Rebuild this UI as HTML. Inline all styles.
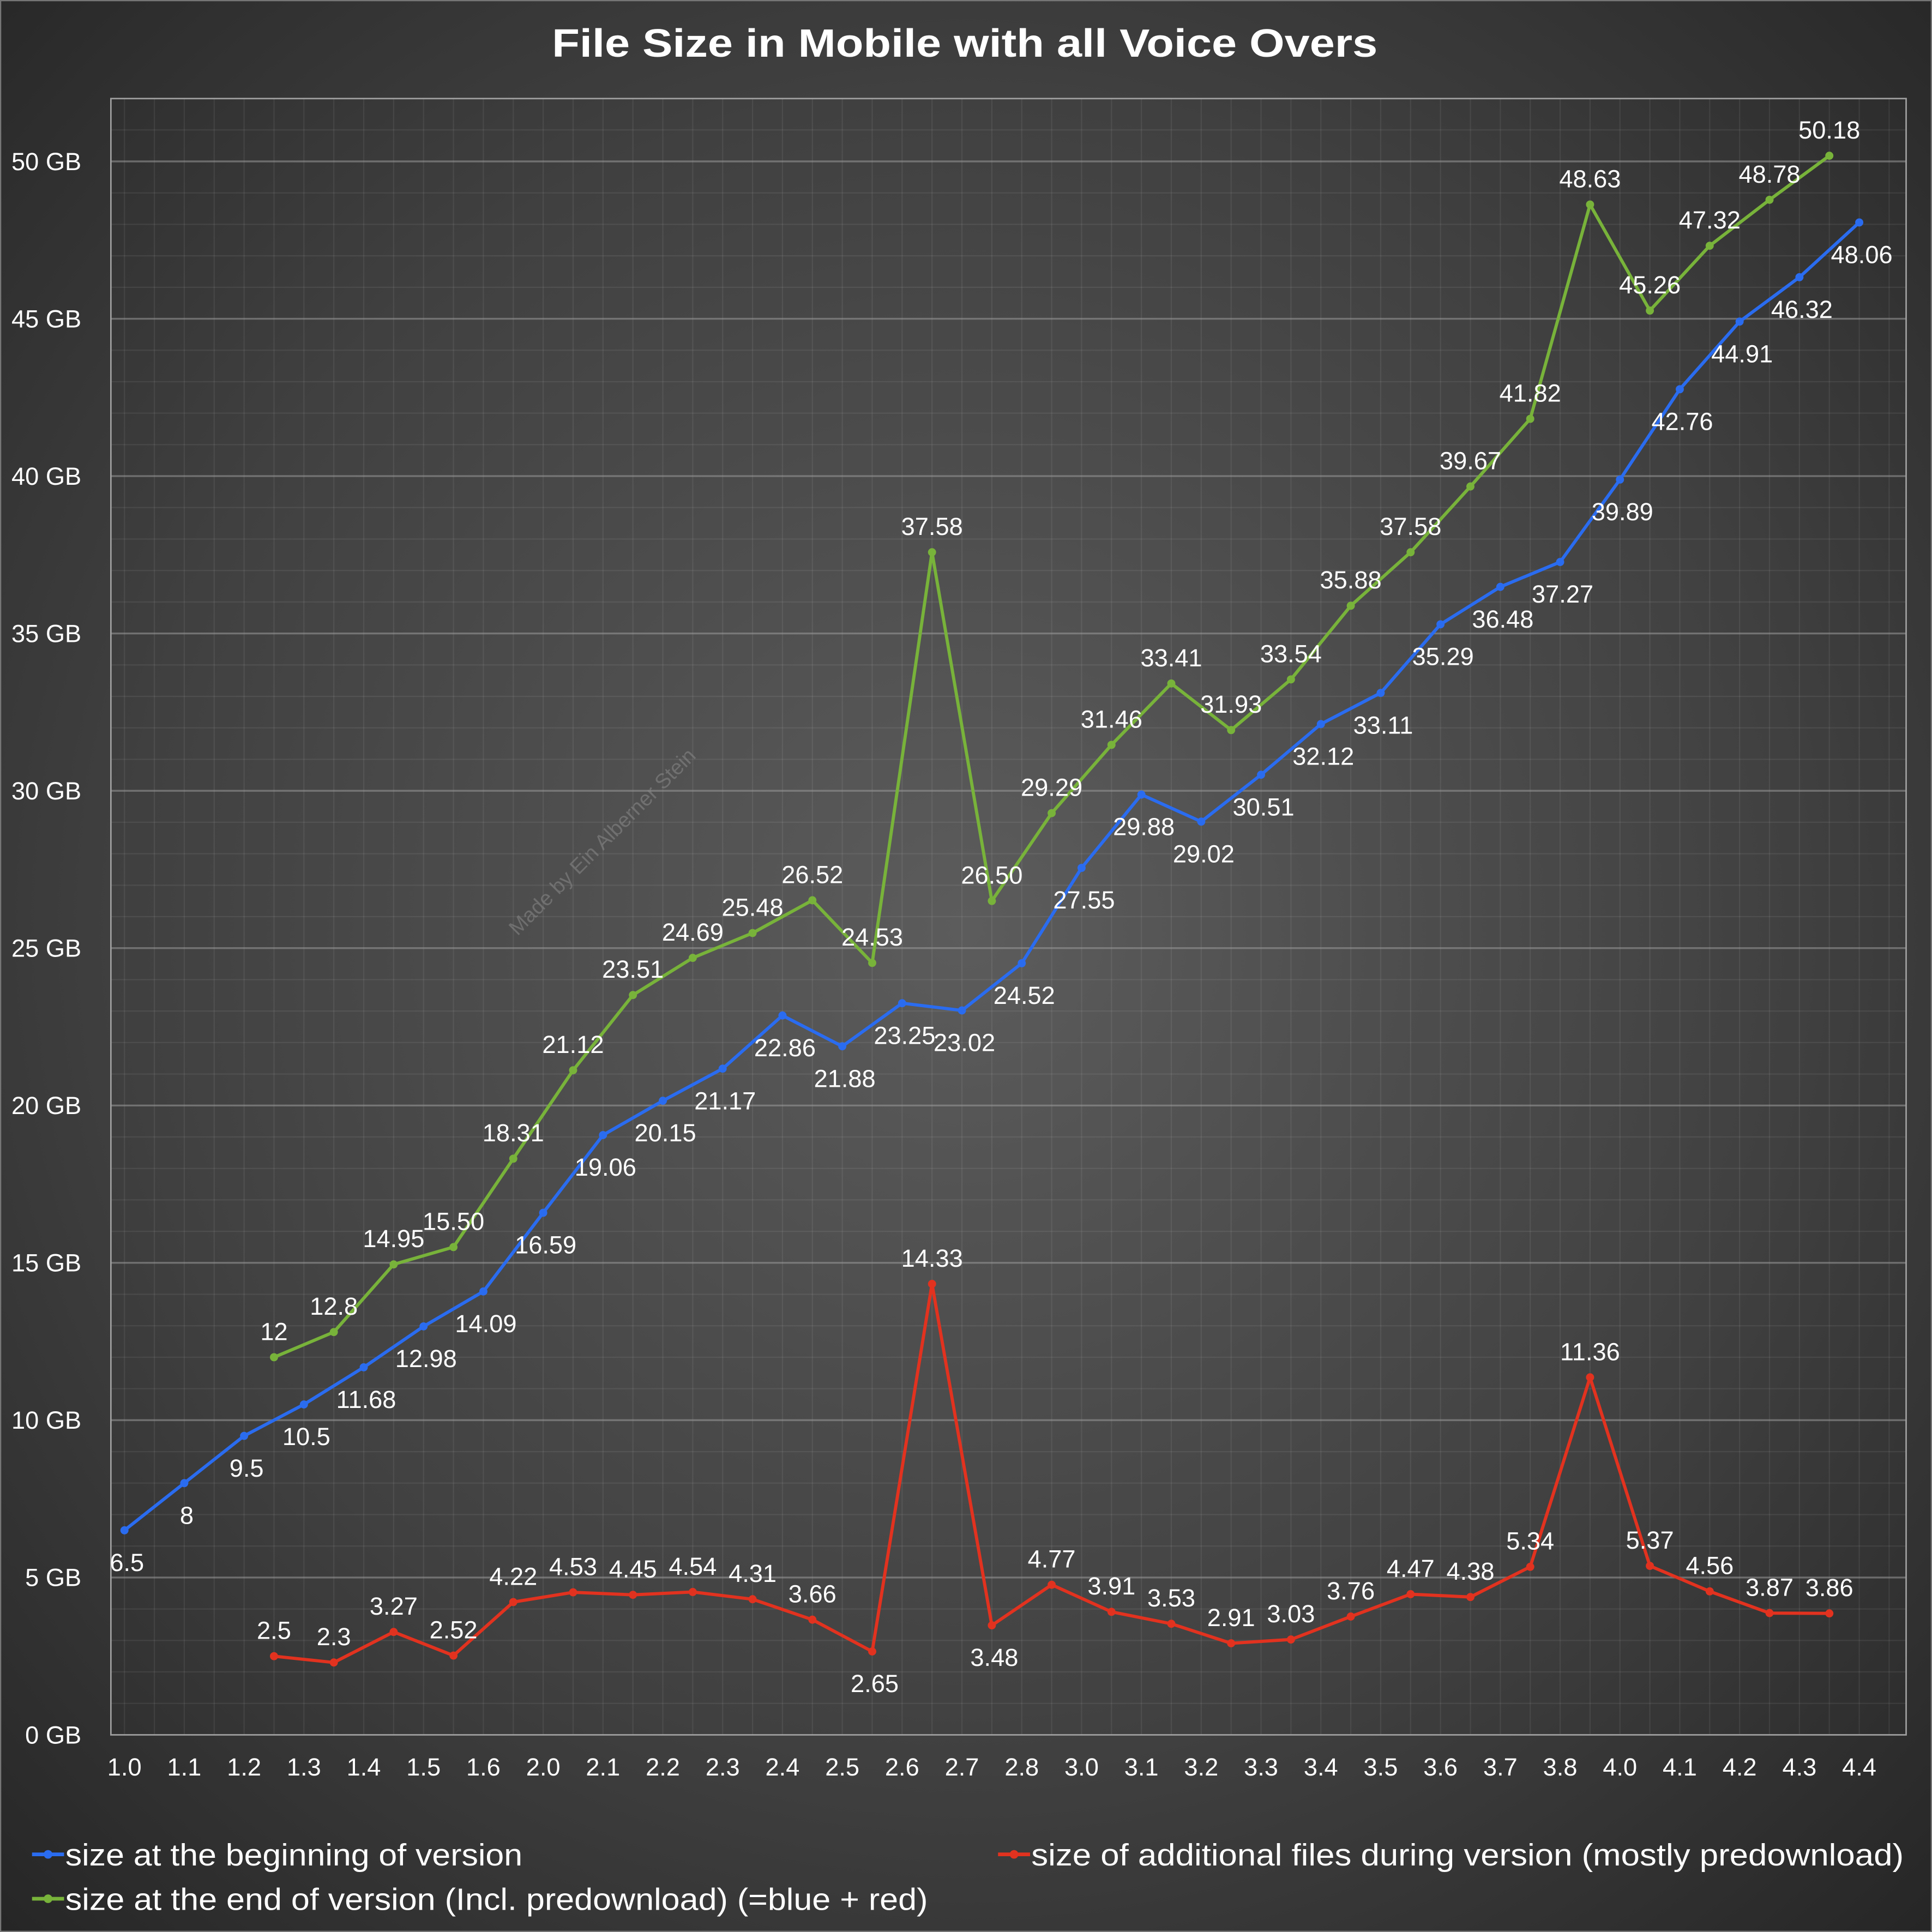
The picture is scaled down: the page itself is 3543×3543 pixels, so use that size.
<!DOCTYPE html>
<html><head><meta charset="utf-8">
<style>
html,body{margin:0;padding:0;background:#2b2b2b;}
svg{display:block;}
text{font-family:"Liberation Sans",sans-serif;}
</style></head>
<body>
<svg id="c" width="3543" height="3543" viewBox="0 0 1568 1568" xmlns="http://www.w3.org/2000/svg">
<defs>
<radialGradient id="bg" cx="50%" cy="48%" r="72%">
<stop offset="0" stop-color="#5c5c5c"/>
<stop offset="0.6" stop-color="#404040"/>
<stop offset="1" stop-color="#262626"/>
</radialGradient>
</defs>
<rect x="0" y="0" width="1568" height="1568" fill="url(#bg)"/>
<rect x="0.5" y="0.5" width="1567" height="1567" fill="none" stroke="#777" stroke-width="1"/>
<text x="448" y="46" fill="#fff" font-size="32" font-weight="bold" textLength="670" lengthAdjust="spacingAndGlyphs">File Size in Mobile with all Voice Overs</text>
<g id="grid"></g>
<rect x="90" y="80" width="1457" height="1328" fill="none" stroke="#a0a0a0" stroke-width="1.2"/>
<text x="420" y="760" fill="#8a8a8a" fill-opacity="0.55" font-size="17" transform="rotate(-45 420 760)">Made by Ein Alberner Stein</text>
<g id="series"></g>
<g font-size="25" fill="#fff">
<line x1="26" y1="1505" x2="52" y2="1505" stroke="#2a6cf0" stroke-width="3"/><circle cx="39" cy="1505" r="3.5" fill="#2a6cf0"/>
<text x="53" y="1514" textLength="371" lengthAdjust="spacingAndGlyphs">size at the beginning of version</text>
<line x1="810" y1="1505" x2="836" y2="1505" stroke="#e2321f" stroke-width="3"/><circle cx="823" cy="1505" r="3.5" fill="#e2321f"/>
<text x="837" y="1514" textLength="708" lengthAdjust="spacingAndGlyphs">size of additional files during version (mostly predownload)</text>
<line x1="26" y1="1541" x2="52" y2="1541" stroke="#78b33a" stroke-width="3"/><circle cx="39" cy="1541" r="3.5" fill="#78b33a"/>
<text x="53" y="1550" textLength="700" lengthAdjust="spacingAndGlyphs">size at the end of version (Incl. predownload) (=blue + red)</text>
</g>
</svg>
<script>
const NS="http://www.w3.org/2000/svg";
function el(t,a,p,txt){const e=document.createElementNS(NS,t);for(const k in a)e.setAttribute(k,a[k]);if(txt!==undefined)e.textContent=txt;p.appendChild(e);return e;}
const g=document.getElementById('grid'),s=document.getElementById('series');
const Y=v=>1408-v*25.54, X=i=>101+i*48.55;
for(let v=1;v<=52;v++){if(v%5)el('line',{x1:90,x2:1547,y1:Y(v),y2:Y(v),stroke:'#ffffff','stroke-opacity':0.07,'stroke-width':1},g);}
for(let i=0;i<60;i++){const x=101+i*24.275;if(x<1547)el('line',{x1:x,x2:x,y1:80,y2:1408,stroke:'#ffffff','stroke-opacity':0.07,'stroke-width':1},g);}
for(let v=5;v<=50;v+=5){el('line',{x1:90,x2:1547,y1:Y(v),y2:Y(v),stroke:'#9a9a9a','stroke-opacity':0.55,'stroke-width':1.5},g);}
for(let v=0;v<=50;v+=5){el('text',{x:66,y:Y(v)+7,'text-anchor':'end',fill:'#fff','font-size':20},g,v+' GB');}
const cats=['1.0','1.1','1.2','1.3','1.4','1.5','1.6','2.0','2.1','2.2','2.3','2.4','2.5','2.6','2.7','2.8','3.0','3.1','3.2','3.3','3.4','3.5','3.6','3.7','3.8','4.0','4.1','4.2','4.3','4.4'];
cats.forEach((c,i)=>el('text',{x:X(i),y:1441,'text-anchor':'middle',fill:'#fff','font-size':20},g,c));
const blue=[6.5,8,9.5,10.5,11.68,12.98,14.09,16.59,19.06,20.15,21.17,22.86,21.88,23.25,23.02,24.52,27.55,29.88,29.02,30.51,32.12,33.11,35.29,36.48,37.27,39.89,42.76,44.91,46.32,48.06];
const bl=['6.5','8','9.5','10.5','11.68','12.98','14.09','16.59','19.06','20.15','21.17','22.86','21.88','23.25','23.02','24.52','27.55','29.88','29.02','30.51','32.12','33.11','35.29','36.48','37.27','39.89','42.76','44.91','46.32','48.06'];
const green=['12','12.8','14.95','15.50','18.31','21.12','23.51','24.69','25.48','26.52','24.53','37.58','26.50','29.29','31.46','33.41','31.93','33.54','35.88','37.58','39.67','41.82','48.63','45.26','47.32','48.78','50.18'];
const red=['2.5','2.3','3.27','2.52','4.22','4.53','4.45','4.54','4.31','3.66','2.65','14.33','3.48','4.77','3.91','3.53','2.91','3.03','3.76','4.47','4.38','5.34','11.36','5.37','4.56','3.87','3.86'];
function series(pts,col,labels,below){
 el('polyline',{points:pts.map(p=>p[0]+','+p[1]).join(' '),fill:'none',stroke:col,'stroke-width':2.6,'stroke-linejoin':'round'},s);
 pts.forEach((p,i)=>{el('circle',{cx:p[0],cy:p[1],r:3.3,fill:col},s);
  const b=below(i);el('text',{x:p[0]+(b?2:0),y:b?p[1]+33:p[1]-14,'text-anchor':'middle',fill:'#fff','font-size':20},s,labels[i]);});
}
series(blue.map((v,i)=>[X(i),Y(v)]),'#2a6cf0',bl,()=>true);
series(green.map((v,i)=>[X(i+2.5),Y(+v)]),'#78b33a',green,()=>false);
series(red.map((v,i)=>[X(i+2.5),Y(+v)]),'#e2321f',red,i=>i==10||i==12);
</script>
</body></html>
